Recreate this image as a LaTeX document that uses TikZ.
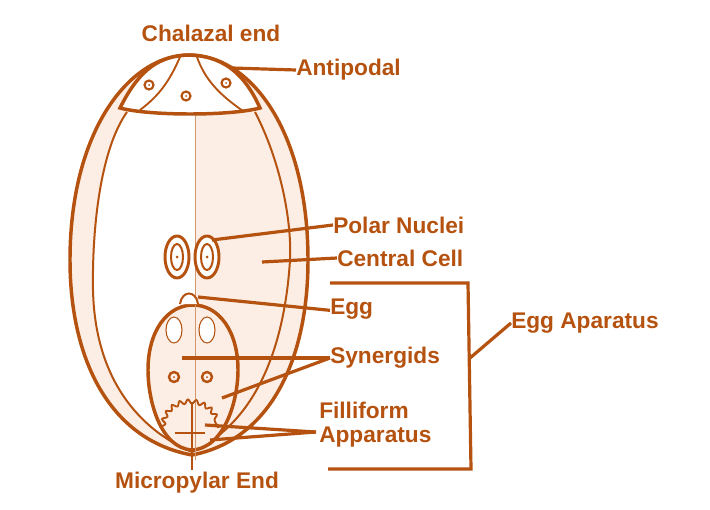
\documentclass[tikz,border=0pt]{standalone}
\usepackage{fontspec}
\setmainfont{Liberation Sans}
\usetikzlibrary{decorations.pathmorphing}
\definecolor{br}{HTML}{B5520F}
\definecolor{pe}{HTML}{FCEEE4}
\begin{document}
\begin{tikzpicture}[x=0.75pt,y=-0.75pt,
  lbl/.style={text=br,font=\fontsize{17}{19}\selectfont\bfseries,inner sep=0pt},
  ln/.style={draw=br,line width=2.4pt},
  ol/.style={draw=br,line width=2.6pt}]
\useasboundingbox (0,0) rectangle (710,510);
% outer egg
\path[ol,fill=pe] (192,455) .. controls (110,440) and (70,360) .. (70,260) .. controls (70,130) and (130,55) .. (189,55) .. controls (250,55) and (308,130) .. (308,260) .. controls (308,360) and (270,440) .. (192,455);
% left central white
\fill[white] (127,112) .. controls (100,150) and (92,230) .. (93,290) .. controls (95,380) and (140,430) .. (192,452) -- (195,452) -- (195,115) -- cycle;
\draw[br,line width=1.5pt] (127,112) .. controls (100,150) and (92,230) .. (93,290) .. controls (95,380) and (140,430) .. (192,452);
\draw[br,line width=1.5pt] (255,112) .. controls (280,160) and (292,220) .. (290,260) .. controls (285,340) and (260,420) .. (192,452);
\draw[br!60,line width=0.6pt] (195,115) -- (195,460);
% antipodal cap
\path[ol,fill=white] (120,108) .. controls (140,68) and (160,56) .. (189,55) .. controls (220,56) and (243,70) .. (260,108) .. controls (230,116) and (150,116) .. cycle;
\draw[br,line width=1.4pt] (180,57) .. controls (170,80) and (160,95) .. (140,110);
\draw[br,line width=1.4pt] (197,57) .. controls (205,80) and (220,95) .. (243,111);
\foreach \p in {(149,85),(186,96),(226,83)} {\draw[br,line width=1.6pt] \p circle (4.5); \fill[br] \p circle (1);}
% polar nuclei
\foreach \x in {177,207} {
  \draw[br,line width=2.2pt,fill=white] (\x,257) ellipse (12 and 21);
  \draw[br,line width=1.5pt] (\x,257) ellipse (6 and 13);
  \fill[br] (\x,257) circle (1.5);}
% synergid oval
\path[ol,fill=pe] (192,450) .. controls (160,448) and (148,400) .. (148,370) .. controls (148,330) and (168,305) .. (193,305) .. controls (218,305) and (238,330) .. (238,370) .. controls (238,400) and (225,448) .. (192,450);
% egg bump
\draw[br,line width=1.5pt,fill=white] (180,304) .. controls (182,290) and (196,290) .. (198,304);
\draw[br!60,line width=0.6pt] (195,305) -- (195,460);
\foreach \x in {174,207} {
  \draw[br,line width=0.8pt,fill=white] (\x,330) ellipse (8 and 13);
  \draw[br,line width=1.8pt] (\x,377) circle (5); \fill[br] (\x,377) circle (1);}
% filiform
\draw[br,line width=1.4pt,decorate,decoration={snake,amplitude=1.6,segment length=6}] (163,430) .. controls (163,395) and (215,395) .. (218,428);
\draw[br,line width=2pt] (192,402) -- (192,470);
\draw[br,line width=2pt] (175,433) -- (205,433);
% labels
\node[lbl] (ch) at (211,33) {Chalazal end};
\node[lbl,anchor=west] (ap) at (296,70) {Antipodal};
\node[lbl,anchor=west] (pn) at (333,225) {Polar Nuclei};
\node[lbl,anchor=west] (cc) at (337,258) {Central Cell};
\node[lbl,anchor=west] (eg) at (330,309) {Egg};
\node[lbl,anchor=west] (sy) at (330,358) {Synergids};
\node[lbl,anchor=west] (fi) at (319,410) {Filliform};
\node[lbl,anchor=west] (fa) at (319,437) {Apparatus};
\node[lbl,anchor=west] (ea) at (511,323) {Egg Aparatus};
\node[lbl] (mi) at (197,483) {Micropylar End};
% connectors
\coordinate (a1) at (232,68); \draw[ln] (a1) -- (ap.west);
\coordinate (p1) at (212,240); \draw[ln] (p1) -- (pn.west);
\coordinate (c1) at (262,262); \draw[ln] (c1) -- (cc.west);
\coordinate (e1) at (198,297); \draw[ln] (e1) -- ([yshift=-1pt]eg.west);
\coordinate (s1) at (182,358); \coordinate (s2) at (222,398);
\draw[ln] (s1) -- (sy.west); \draw[ln] (s2) -- (sy.west);
\coordinate (f1) at (205,425); \coordinate (f2) at (210,440); \coordinate (fj) at (316,432);
\draw[ln] (f1) -- (fj); \draw[ln] (f2) -- (fj);
\coordinate (b1) at (330,283); \coordinate (b2) at (468,283); \coordinate (b3) at (471,469); \coordinate (b4) at (328,469);
\draw[ln] (b1) -- (b2) -- (b3) -- (b4);
\coordinate (bm) at (470,358); \draw[ln] (bm) -- (ea.west);
\end{tikzpicture}
\end{document}
